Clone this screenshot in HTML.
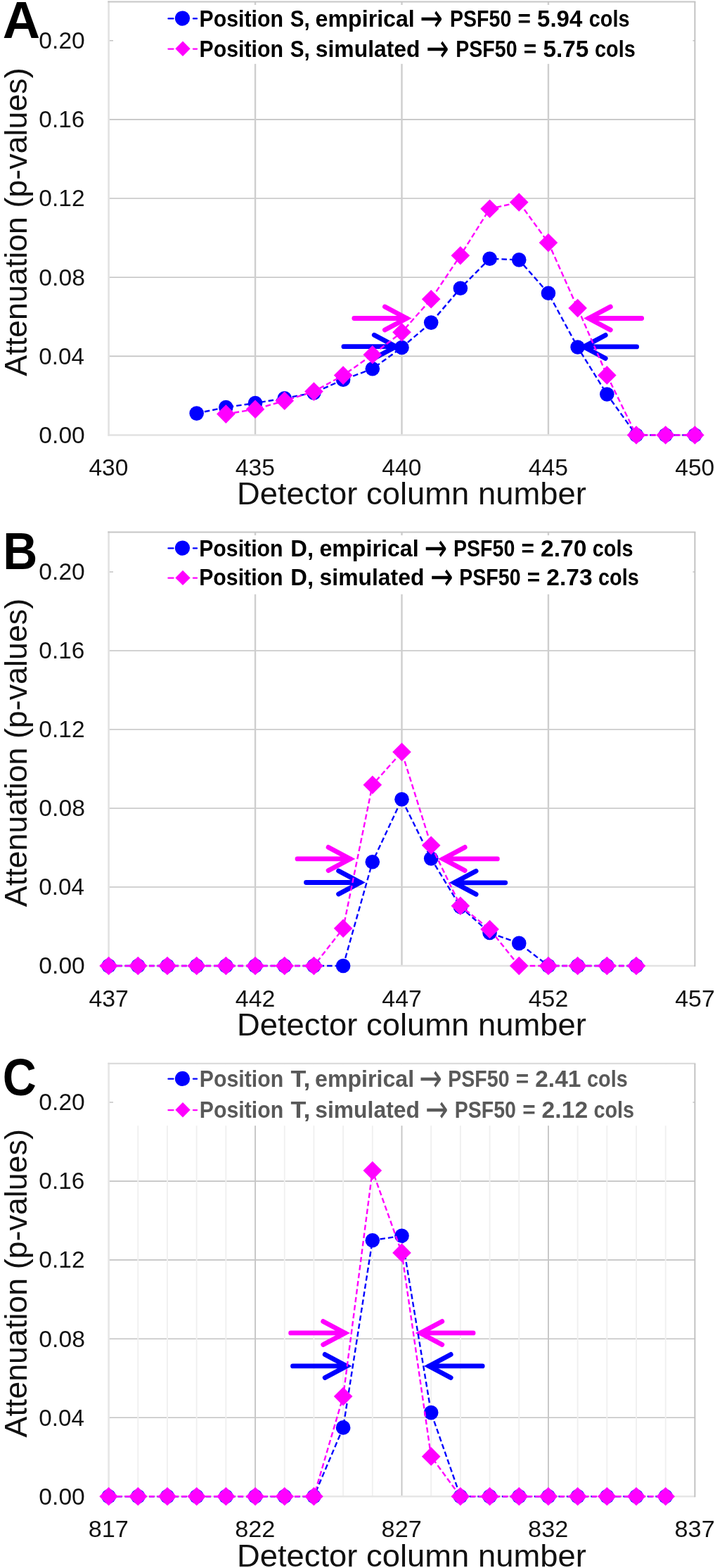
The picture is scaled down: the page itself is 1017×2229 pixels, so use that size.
<!DOCTYPE html>
<html lang="en"><head><meta charset="utf-8"><title>PSF50 profiles</title>
<style>html,body{margin:0;padding:0;background:#fff}svg{display:block}text{font-family:"Liberation Sans", "DejaVu Sans", sans-serif}.dj{font-family:"DejaVu Sans","Liberation Sans",sans-serif}</style>
</head><body>
<svg width="1017" height="2229" viewBox="0 0 1017 2229">
<rect width="1017" height="2229" fill="#fff"/>
<g>
<line x1="154.6" y1="506.35" x2="988.4" y2="506.35" stroke="#c3c3c3" stroke-width="1.6"/>
<line x1="154.6" y1="394.2" x2="988.4" y2="394.2" stroke="#c3c3c3" stroke-width="1.6"/>
<line x1="154.6" y1="282.05" x2="988.4" y2="282.05" stroke="#c3c3c3" stroke-width="1.6"/>
<line x1="154.6" y1="169.9" x2="988.4" y2="169.9" stroke="#c3c3c3" stroke-width="1.6"/>
<line x1="154.6" y1="57.75" x2="988.4" y2="57.75" stroke="#c3c3c3" stroke-width="1.6"/>
<line x1="363.05" y1="2.5" x2="363.05" y2="618.5" stroke="#cecece" stroke-width="2.4"/>
<line x1="571.5" y1="2.5" x2="571.5" y2="618.5" stroke="#cecece" stroke-width="2.4"/>
<line x1="779.95" y1="2.5" x2="779.95" y2="618.5" stroke="#cecece" stroke-width="2.4"/>
<rect x="161" y="7" width="824.5" height="83.8" fill="#fff"/>
<line x1="154.6" y1="1.3" x2="154.6" y2="619.8" stroke="#e2e2e2" stroke-width="2.6"/>
<line x1="153.3" y1="618.5" x2="988.4" y2="618.5" stroke="#e2e2e2" stroke-width="2.6"/>
<line x1="153.4" y1="2.5" x2="989.4" y2="2.5" stroke="#c6c6c6" stroke-width="2.2"/>
<line x1="988.4" y1="2.5" x2="988.4" y2="619.5" stroke="#c0c0c0" stroke-width="1.9"/>
<path d="M503.8 452.5H578.4M547.4 436L578.4 452.5L547.4 469" fill="none" stroke="#ff00ff" stroke-width="6.8" stroke-linecap="round" stroke-linejoin="miter"/>
<path d="M912.7 452.5H837.3M868.3 436L837.3 452.5L868.3 469" fill="none" stroke="#ff00ff" stroke-width="6.8" stroke-linecap="round" stroke-linejoin="miter"/>
<path d="M488.9 492.7H563.3M532.3 476.2L563.3 492.7L532.3 509.2" fill="none" stroke="#0000ff" stroke-width="6.8" stroke-linecap="round" stroke-linejoin="miter"/>
<path d="M905.6 492.9H830.2M861.2 476.4L830.2 492.9L861.2 509.4" fill="none" stroke="#0000ff" stroke-width="6.8" stroke-linecap="round" stroke-linejoin="miter"/>
<polyline points="279.67,587.6 321.36,579 363.05,573.1 404.74,566.2 446.43,558.4 488.12,539.8 529.81,524.3 571.5,494 613.19,458.6 654.88,409.7 696.57,367.7 738.26,369.4 779.95,416.8 821.64,493.5 863.33,560.5 905.02,618.5 946.71,618.5 988.4,618.5" fill="none" stroke="#0000ff" stroke-width="2.4" stroke-dasharray="7.5 4"/>
<circle cx="279.67" cy="587.6" r="10.3" fill="#0000ff"/>
<circle cx="321.36" cy="579" r="10.3" fill="#0000ff"/>
<circle cx="363.05" cy="573.1" r="10.3" fill="#0000ff"/>
<circle cx="404.74" cy="566.2" r="10.3" fill="#0000ff"/>
<circle cx="446.43" cy="558.4" r="10.3" fill="#0000ff"/>
<circle cx="488.12" cy="539.8" r="10.3" fill="#0000ff"/>
<circle cx="529.81" cy="524.3" r="10.3" fill="#0000ff"/>
<circle cx="571.5" cy="494" r="10.3" fill="#0000ff"/>
<circle cx="613.19" cy="458.6" r="10.3" fill="#0000ff"/>
<circle cx="654.88" cy="409.7" r="10.3" fill="#0000ff"/>
<circle cx="696.57" cy="367.7" r="10.3" fill="#0000ff"/>
<circle cx="738.26" cy="369.4" r="10.3" fill="#0000ff"/>
<circle cx="779.95" cy="416.8" r="10.3" fill="#0000ff"/>
<circle cx="821.64" cy="493.5" r="10.3" fill="#0000ff"/>
<circle cx="863.33" cy="560.5" r="10.3" fill="#0000ff"/>
<circle cx="905.02" cy="618.5" r="10.3" fill="#0000ff"/>
<circle cx="946.71" cy="618.5" r="10.3" fill="#0000ff"/>
<circle cx="988.4" cy="618.5" r="10.3" fill="#0000ff"/>
<polyline points="321.36,588.6 363.05,581.7 404.74,569.7 446.43,556.6 488.12,533.6 529.81,504.3 571.5,472.3 613.19,425.2 654.88,363.2 696.57,296.8 738.26,287.5 779.95,345 821.64,438 863.33,533.4 905.02,618.5 946.71,618.5 988.4,618.5" fill="none" stroke="#ff00ff" stroke-width="2.4" stroke-dasharray="7.5 4"/>
<path d="M308.06 588.6L321.36 575.3L334.66 588.6L321.36 601.9Z" fill="#ff00ff"/>
<path d="M349.75 581.7L363.05 568.4L376.35 581.7L363.05 595Z" fill="#ff00ff"/>
<path d="M391.44 569.7L404.74 556.4L418.04 569.7L404.74 583Z" fill="#ff00ff"/>
<path d="M433.13 556.6L446.43 543.3L459.73 556.6L446.43 569.9Z" fill="#ff00ff"/>
<path d="M474.82 533.6L488.12 520.3L501.42 533.6L488.12 546.9Z" fill="#ff00ff"/>
<path d="M516.51 504.3L529.81 491L543.11 504.3L529.81 517.6Z" fill="#ff00ff"/>
<path d="M558.2 472.3L571.5 459L584.8 472.3L571.5 485.6Z" fill="#ff00ff"/>
<path d="M599.89 425.2L613.19 411.9L626.49 425.2L613.19 438.5Z" fill="#ff00ff"/>
<path d="M641.58 363.2L654.88 349.9L668.18 363.2L654.88 376.5Z" fill="#ff00ff"/>
<path d="M683.27 296.8L696.57 283.5L709.87 296.8L696.57 310.1Z" fill="#ff00ff"/>
<path d="M724.96 287.5L738.26 274.2L751.56 287.5L738.26 300.8Z" fill="#ff00ff"/>
<path d="M766.65 345L779.95 331.7L793.25 345L779.95 358.3Z" fill="#ff00ff"/>
<path d="M808.34 438L821.64 424.7L834.94 438L821.64 451.3Z" fill="#ff00ff"/>
<path d="M850.03 533.4L863.33 520.1L876.63 533.4L863.33 546.7Z" fill="#ff00ff"/>
<path d="M891.72 618.5L905.02 605.2L918.32 618.5L905.02 631.8Z" fill="#ff00ff"/>
<path d="M933.41 618.5L946.71 605.2L960.01 618.5L946.71 631.8Z" fill="#ff00ff"/>
<path d="M975.1 618.5L988.4 605.2L1001.7 618.5L988.4 631.8Z" fill="#ff00ff"/>
<path d="M239.4 26.4H246.6M274.9 26.4H280.1" stroke="#0000ff" stroke-width="2.2" stroke-linecap="round"/>
<circle cx="259.5" cy="26.1" r="10.6" fill="#0000ff"/>
<path d="M239.4 69.6H246.6M274.9 69.6H280.1" stroke="#ff00ff" stroke-width="2.2" stroke-linecap="round"/>
<path d="M249.3 69.3L260 58.6L270.7 69.3L260 80Z" fill="#ff00ff"/>
<text y="37.7" font-size="32.5" font-weight="bold" fill="#000000"><tspan x="283.56" textLength="119.42" lengthAdjust="spacingAndGlyphs">Position</tspan> <tspan x="412.81" textLength="28.09" lengthAdjust="spacingAndGlyphs">S,</tspan> <tspan x="448.61" textLength="141.18" lengthAdjust="spacingAndGlyphs">empirical</tspan> <tspan x="597.25" dy="5.9" class="dj" font-size="54" font-weight="normal" textLength="32.71" lengthAdjust="spacingAndGlyphs">→</tspan> <tspan x="639.97" dy="-5.9" textLength="87.33" lengthAdjust="spacingAndGlyphs">PSF50</tspan> <tspan x="736.56" textLength="18.45" lengthAdjust="spacingAndGlyphs">=</tspan> <tspan x="764.11" textLength="64.2" lengthAdjust="spacingAndGlyphs">5.94</tspan> <tspan x="837.75" textLength="57.74" lengthAdjust="spacingAndGlyphs">cols</tspan></text>
<text y="80.7" font-size="32.5" font-weight="bold" fill="#000000"><tspan x="283.56" textLength="119.42" lengthAdjust="spacingAndGlyphs">Position</tspan> <tspan x="412.81" textLength="28.09" lengthAdjust="spacingAndGlyphs">S,</tspan> <tspan x="448.78" textLength="148.81" lengthAdjust="spacingAndGlyphs">simulated</tspan> <tspan x="606.05" dy="5.9" class="dj" font-size="54" font-weight="normal" textLength="32.71" lengthAdjust="spacingAndGlyphs">→</tspan> <tspan x="648.27" dy="-5.9" textLength="87.33" lengthAdjust="spacingAndGlyphs">PSF50</tspan> <tspan x="744.86" textLength="18.45" lengthAdjust="spacingAndGlyphs">=</tspan> <tspan x="772.4" textLength="64.96" lengthAdjust="spacingAndGlyphs">5.75</tspan> <tspan x="846.05" textLength="57.74" lengthAdjust="spacingAndGlyphs">cols</tspan></text>
<text x="55.35" y="629.8" font-size="33" fill="#111" textLength="65.45" lengthAdjust="spacingAndGlyphs">0.00</text>
<text x="55.37" y="517.65" font-size="33" fill="#111" textLength="64.48" lengthAdjust="spacingAndGlyphs">0.04</text>
<text x="55.35" y="405.5" font-size="33" fill="#111" textLength="65.63" lengthAdjust="spacingAndGlyphs">0.08</text>
<text x="55.36" y="293.35" font-size="33" fill="#111" textLength="65.26" lengthAdjust="spacingAndGlyphs">0.12</text>
<text x="55.36" y="181.2" font-size="33" fill="#111" textLength="65" lengthAdjust="spacingAndGlyphs">0.16</text>
<text x="55.35" y="69.05" font-size="33" fill="#111" textLength="65.45" lengthAdjust="spacingAndGlyphs">0.20</text>
<text x="126.44" y="676.1" font-size="33" fill="#111" textLength="56.05" lengthAdjust="spacingAndGlyphs">430</text>
<text x="334.89" y="676.1" font-size="33" fill="#111" textLength="56.14" lengthAdjust="spacingAndGlyphs">435</text>
<text x="543.34" y="676.1" font-size="33" fill="#111" textLength="56.05" lengthAdjust="spacingAndGlyphs">440</text>
<text x="751.79" y="676.1" font-size="33" fill="#111" textLength="56.14" lengthAdjust="spacingAndGlyphs">445</text>
<text x="960.24" y="676.1" font-size="33" fill="#111" textLength="56.05" lengthAdjust="spacingAndGlyphs">450</text>
<text x="336.96" y="716.6" font-size="44.5" fill="#111" textLength="496.9" lengthAdjust="spacingAndGlyphs">Detector column number</text>
<text x="-0.11" y="0" font-size="44.5" fill="#111" textLength="438.36" lengthAdjust="spacingAndGlyphs" transform="translate(38.1 534.6) rotate(-90)">Attenuation (p-values)</text>
<text x="3.65" y="54.3" font-size="74.5" font-weight="bold" fill="#000" textLength="53.36" lengthAdjust="spacingAndGlyphs">A</text>
</g>
<g>
<line x1="154.6" y1="1261" x2="988.4" y2="1261" stroke="#c3c3c3" stroke-width="1.6"/>
<line x1="154.6" y1="1149" x2="988.4" y2="1149" stroke="#c3c3c3" stroke-width="1.6"/>
<line x1="154.6" y1="1037" x2="988.4" y2="1037" stroke="#c3c3c3" stroke-width="1.6"/>
<line x1="154.6" y1="925" x2="988.4" y2="925" stroke="#c3c3c3" stroke-width="1.6"/>
<line x1="154.6" y1="813" x2="988.4" y2="813" stroke="#c3c3c3" stroke-width="1.6"/>
<line x1="363.05" y1="756.5" x2="363.05" y2="1373" stroke="#cecece" stroke-width="2.4"/>
<line x1="571.5" y1="756.5" x2="571.5" y2="1373" stroke="#cecece" stroke-width="2.4"/>
<line x1="779.95" y1="756.5" x2="779.95" y2="1373" stroke="#cecece" stroke-width="2.4"/>
<rect x="161" y="761" width="824.5" height="83.8" fill="#fff"/>
<line x1="154.6" y1="755.3" x2="154.6" y2="1374.3" stroke="#e2e2e2" stroke-width="2.6"/>
<line x1="153.3" y1="1373" x2="988.4" y2="1373" stroke="#e2e2e2" stroke-width="2.6"/>
<line x1="153.4" y1="756.5" x2="989.4" y2="756.5" stroke="#c6c6c6" stroke-width="2.2"/>
<line x1="988.4" y1="756.5" x2="988.4" y2="1374" stroke="#c0c0c0" stroke-width="1.9"/>
<path d="M423 1220.9H498.1M467.1 1204.4L498.1 1220.9L467.1 1237.4" fill="none" stroke="#ff00ff" stroke-width="6.8" stroke-linecap="round" stroke-linejoin="miter"/>
<path d="M707.4 1220.9H630.2M661.2 1204.4L630.2 1220.9L661.2 1237.4" fill="none" stroke="#ff00ff" stroke-width="6.8" stroke-linecap="round" stroke-linejoin="miter"/>
<path d="M435.5 1254.5H512.6M481.6 1238L512.6 1254.5L481.6 1271" fill="none" stroke="#0000ff" stroke-width="6.8" stroke-linecap="round" stroke-linejoin="miter"/>
<path d="M718.8 1254.8H646.1M677.1 1238.3L646.1 1254.8L677.1 1271.3" fill="none" stroke="#0000ff" stroke-width="6.8" stroke-linecap="round" stroke-linejoin="miter"/>
<polyline points="154.6,1373 196.29,1373 237.98,1373 279.67,1373 321.36,1373 363.05,1373 404.74,1373 446.43,1373 488.12,1373 529.81,1225.3 571.5,1136.3 613.19,1220.5 654.88,1289 696.57,1326 738.26,1340.9 779.95,1373 821.64,1373 863.33,1373 905.02,1373" fill="none" stroke="#0000ff" stroke-width="2.4" stroke-dasharray="7.5 4"/>
<circle cx="154.6" cy="1373" r="10.3" fill="#0000ff"/>
<circle cx="196.29" cy="1373" r="10.3" fill="#0000ff"/>
<circle cx="237.98" cy="1373" r="10.3" fill="#0000ff"/>
<circle cx="279.67" cy="1373" r="10.3" fill="#0000ff"/>
<circle cx="321.36" cy="1373" r="10.3" fill="#0000ff"/>
<circle cx="363.05" cy="1373" r="10.3" fill="#0000ff"/>
<circle cx="404.74" cy="1373" r="10.3" fill="#0000ff"/>
<circle cx="446.43" cy="1373" r="10.3" fill="#0000ff"/>
<circle cx="488.12" cy="1373" r="10.3" fill="#0000ff"/>
<circle cx="529.81" cy="1225.3" r="10.3" fill="#0000ff"/>
<circle cx="571.5" cy="1136.3" r="10.3" fill="#0000ff"/>
<circle cx="613.19" cy="1220.5" r="10.3" fill="#0000ff"/>
<circle cx="654.88" cy="1289" r="10.3" fill="#0000ff"/>
<circle cx="696.57" cy="1326" r="10.3" fill="#0000ff"/>
<circle cx="738.26" cy="1340.9" r="10.3" fill="#0000ff"/>
<circle cx="779.95" cy="1373" r="10.3" fill="#0000ff"/>
<circle cx="821.64" cy="1373" r="10.3" fill="#0000ff"/>
<circle cx="863.33" cy="1373" r="10.3" fill="#0000ff"/>
<circle cx="905.02" cy="1373" r="10.3" fill="#0000ff"/>
<polyline points="154.6,1373 196.29,1373 237.98,1373 279.67,1373 321.36,1373 363.05,1373 404.74,1373 446.43,1373 488.12,1319.7 529.81,1115.7 571.5,1069 613.19,1201.8 654.88,1287.8 696.57,1321 738.26,1373 779.95,1373 821.64,1373 863.33,1373 905.02,1373" fill="none" stroke="#ff00ff" stroke-width="2.4" stroke-dasharray="7.5 4"/>
<path d="M141.3 1373L154.6 1359.7L167.9 1373L154.6 1386.3Z" fill="#ff00ff"/>
<path d="M182.99 1373L196.29 1359.7L209.59 1373L196.29 1386.3Z" fill="#ff00ff"/>
<path d="M224.68 1373L237.98 1359.7L251.28 1373L237.98 1386.3Z" fill="#ff00ff"/>
<path d="M266.37 1373L279.67 1359.7L292.97 1373L279.67 1386.3Z" fill="#ff00ff"/>
<path d="M308.06 1373L321.36 1359.7L334.66 1373L321.36 1386.3Z" fill="#ff00ff"/>
<path d="M349.75 1373L363.05 1359.7L376.35 1373L363.05 1386.3Z" fill="#ff00ff"/>
<path d="M391.44 1373L404.74 1359.7L418.04 1373L404.74 1386.3Z" fill="#ff00ff"/>
<path d="M433.13 1373L446.43 1359.7L459.73 1373L446.43 1386.3Z" fill="#ff00ff"/>
<path d="M474.82 1319.7L488.12 1306.4L501.42 1319.7L488.12 1333Z" fill="#ff00ff"/>
<path d="M516.51 1115.7L529.81 1102.4L543.11 1115.7L529.81 1129Z" fill="#ff00ff"/>
<path d="M558.2 1069L571.5 1055.7L584.8 1069L571.5 1082.3Z" fill="#ff00ff"/>
<path d="M599.89 1201.8L613.19 1188.5L626.49 1201.8L613.19 1215.1Z" fill="#ff00ff"/>
<path d="M641.58 1287.8L654.88 1274.5L668.18 1287.8L654.88 1301.1Z" fill="#ff00ff"/>
<path d="M683.27 1321L696.57 1307.7L709.87 1321L696.57 1334.3Z" fill="#ff00ff"/>
<path d="M724.96 1373L738.26 1359.7L751.56 1373L738.26 1386.3Z" fill="#ff00ff"/>
<path d="M766.65 1373L779.95 1359.7L793.25 1373L779.95 1386.3Z" fill="#ff00ff"/>
<path d="M808.34 1373L821.64 1359.7L834.94 1373L821.64 1386.3Z" fill="#ff00ff"/>
<path d="M850.03 1373L863.33 1359.7L876.63 1373L863.33 1386.3Z" fill="#ff00ff"/>
<path d="M891.72 1373L905.02 1359.7L918.32 1373L905.02 1386.3Z" fill="#ff00ff"/>
<path d="M239.4 779.4H246.6M274.9 779.4H280.1" stroke="#0000ff" stroke-width="2.2" stroke-linecap="round"/>
<circle cx="259.5" cy="779.1" r="10.6" fill="#0000ff"/>
<path d="M239.4 821.7H246.6M274.9 821.7H280.1" stroke="#ff00ff" stroke-width="2.2" stroke-linecap="round"/>
<path d="M249.3 821.4L260 810.7L270.7 821.4L260 832.1Z" fill="#ff00ff"/>
<text y="790.8" font-size="32.5" font-weight="bold" fill="#000000"><tspan x="283.16" textLength="119.42" lengthAdjust="spacingAndGlyphs">Position</tspan> <tspan x="413.38" textLength="32.83" lengthAdjust="spacingAndGlyphs">D,</tspan> <tspan x="454.41" textLength="141.18" lengthAdjust="spacingAndGlyphs">empirical</tspan> <tspan x="603.55" dy="5.9" class="dj" font-size="54" font-weight="normal" textLength="32.71" lengthAdjust="spacingAndGlyphs">→</tspan> <tspan x="644.97" dy="-5.9" textLength="87.33" lengthAdjust="spacingAndGlyphs">PSF50</tspan> <tspan x="741.56" textLength="18.45" lengthAdjust="spacingAndGlyphs">=</tspan> <tspan x="768.92" textLength="65.57" lengthAdjust="spacingAndGlyphs">2.70</tspan> <tspan x="842.75" textLength="57.74" lengthAdjust="spacingAndGlyphs">cols</tspan></text>
<text y="832.4" font-size="32.5" font-weight="bold" fill="#000000"><tspan x="283.16" textLength="119.42" lengthAdjust="spacingAndGlyphs">Position</tspan> <tspan x="413.38" textLength="32.83" lengthAdjust="spacingAndGlyphs">D,</tspan> <tspan x="454.58" textLength="148.81" lengthAdjust="spacingAndGlyphs">simulated</tspan> <tspan x="611.95" dy="5.9" class="dj" font-size="54" font-weight="normal" textLength="32.71" lengthAdjust="spacingAndGlyphs">→</tspan> <tspan x="653.27" dy="-5.9" textLength="87.33" lengthAdjust="spacingAndGlyphs">PSF50</tspan> <tspan x="749.86" textLength="18.45" lengthAdjust="spacingAndGlyphs">=</tspan> <tspan x="777.22" textLength="65.4" lengthAdjust="spacingAndGlyphs">2.73</tspan> <tspan x="851.05" textLength="57.74" lengthAdjust="spacingAndGlyphs">cols</tspan></text>
<text x="55.35" y="1383.8" font-size="33" fill="#111" textLength="65.45" lengthAdjust="spacingAndGlyphs">0.00</text>
<text x="55.37" y="1271.8" font-size="33" fill="#111" textLength="64.48" lengthAdjust="spacingAndGlyphs">0.04</text>
<text x="55.35" y="1159.8" font-size="33" fill="#111" textLength="65.63" lengthAdjust="spacingAndGlyphs">0.08</text>
<text x="55.36" y="1047.8" font-size="33" fill="#111" textLength="65.26" lengthAdjust="spacingAndGlyphs">0.12</text>
<text x="55.36" y="935.8" font-size="33" fill="#111" textLength="65" lengthAdjust="spacingAndGlyphs">0.16</text>
<text x="55.35" y="823.8" font-size="33" fill="#111" textLength="65.45" lengthAdjust="spacingAndGlyphs">0.20</text>
<text x="126.44" y="1431.3" font-size="33" fill="#111" textLength="56.49" lengthAdjust="spacingAndGlyphs">437</text>
<text x="334.89" y="1431.3" font-size="33" fill="#111" textLength="56.49" lengthAdjust="spacingAndGlyphs">442</text>
<text x="543.34" y="1431.3" font-size="33" fill="#111" textLength="56.49" lengthAdjust="spacingAndGlyphs">447</text>
<text x="751.79" y="1431.3" font-size="33" fill="#111" textLength="56.49" lengthAdjust="spacingAndGlyphs">452</text>
<text x="960.24" y="1431.3" font-size="33" fill="#111" textLength="56.49" lengthAdjust="spacingAndGlyphs">457</text>
<text x="336.96" y="1472.4" font-size="44.5" fill="#111" textLength="496.9" lengthAdjust="spacingAndGlyphs">Detector column number</text>
<text x="-0.11" y="0" font-size="44.5" fill="#111" textLength="438.36" lengthAdjust="spacingAndGlyphs" transform="translate(38.1 1289.1) rotate(-90)">Attenuation (p-values)</text>
<text x="4.22" y="809" font-size="74.5" font-weight="bold" fill="#000" textLength="49.01" lengthAdjust="spacingAndGlyphs">B</text>
</g>
<g>
<line x1="154.6" y1="2015.25" x2="988.4" y2="2015.25" stroke="#c3c3c3" stroke-width="1.6"/>
<line x1="154.6" y1="1903.2" x2="988.4" y2="1903.2" stroke="#c3c3c3" stroke-width="1.6"/>
<line x1="154.6" y1="1791.15" x2="988.4" y2="1791.15" stroke="#c3c3c3" stroke-width="1.6"/>
<line x1="154.6" y1="1679.1" x2="988.4" y2="1679.1" stroke="#c3c3c3" stroke-width="1.6"/>
<line x1="154.6" y1="1567.05" x2="988.4" y2="1567.05" stroke="#c3c3c3" stroke-width="1.6"/>
<line x1="196.29" y1="1511.9" x2="196.29" y2="2127.3" stroke="#f0f0f0" stroke-width="1.9"/>
<line x1="237.98" y1="1511.9" x2="237.98" y2="2127.3" stroke="#f0f0f0" stroke-width="1.9"/>
<line x1="279.67" y1="1511.9" x2="279.67" y2="2127.3" stroke="#f0f0f0" stroke-width="1.9"/>
<line x1="321.36" y1="1511.9" x2="321.36" y2="2127.3" stroke="#f0f0f0" stroke-width="1.9"/>
<line x1="404.74" y1="1511.9" x2="404.74" y2="2127.3" stroke="#f0f0f0" stroke-width="1.9"/>
<line x1="446.43" y1="1511.9" x2="446.43" y2="2127.3" stroke="#f0f0f0" stroke-width="1.9"/>
<line x1="488.12" y1="1511.9" x2="488.12" y2="2127.3" stroke="#f0f0f0" stroke-width="1.9"/>
<line x1="529.81" y1="1511.9" x2="529.81" y2="2127.3" stroke="#f0f0f0" stroke-width="1.9"/>
<line x1="613.19" y1="1511.9" x2="613.19" y2="2127.3" stroke="#f0f0f0" stroke-width="1.9"/>
<line x1="654.88" y1="1511.9" x2="654.88" y2="2127.3" stroke="#f0f0f0" stroke-width="1.9"/>
<line x1="696.57" y1="1511.9" x2="696.57" y2="2127.3" stroke="#f0f0f0" stroke-width="1.9"/>
<line x1="738.26" y1="1511.9" x2="738.26" y2="2127.3" stroke="#f0f0f0" stroke-width="1.9"/>
<line x1="821.64" y1="1511.9" x2="821.64" y2="2127.3" stroke="#f0f0f0" stroke-width="1.9"/>
<line x1="863.33" y1="1511.9" x2="863.33" y2="2127.3" stroke="#f0f0f0" stroke-width="1.9"/>
<line x1="905.02" y1="1511.9" x2="905.02" y2="2127.3" stroke="#f0f0f0" stroke-width="1.9"/>
<line x1="946.71" y1="1511.9" x2="946.71" y2="2127.3" stroke="#f0f0f0" stroke-width="1.9"/>
<line x1="363.05" y1="1511.9" x2="363.05" y2="2127.3" stroke="#c6c6c6" stroke-width="1.9"/>
<line x1="571.5" y1="1511.9" x2="571.5" y2="2127.3" stroke="#c6c6c6" stroke-width="1.9"/>
<line x1="779.95" y1="1511.9" x2="779.95" y2="2127.3" stroke="#c6c6c6" stroke-width="1.9"/>
<rect x="161" y="1513.1" width="824.5" height="87.1" fill="#fff"/>
<line x1="154.6" y1="1510.7" x2="154.6" y2="2128.6" stroke="#e6e6e6" stroke-width="2.6"/>
<line x1="153.3" y1="2127.3" x2="988.4" y2="2127.3" stroke="#e6e6e6" stroke-width="2.6"/>
<line x1="153.4" y1="1511.9" x2="989.4" y2="1511.9" stroke="#dcdcdc" stroke-width="2.2"/>
<line x1="988.4" y1="1511.9" x2="988.4" y2="2128.3" stroke="#c0c0c0" stroke-width="1.9"/>
<path d="M413.6 1894.9H490.7M459.7 1878.4L490.7 1894.9L459.7 1911.4" fill="none" stroke="#ff00ff" stroke-width="6.8" stroke-linecap="round" stroke-linejoin="miter"/>
<path d="M673.1 1894.9H597.8M628.8 1878.4L597.8 1894.9L628.8 1911.4" fill="none" stroke="#ff00ff" stroke-width="6.8" stroke-linecap="round" stroke-linejoin="miter"/>
<path d="M416.5 1941.9H493.2M462.2 1925.4L493.2 1941.9L462.2 1958.4" fill="none" stroke="#0000ff" stroke-width="6.8" stroke-linecap="round" stroke-linejoin="miter"/>
<path d="M686.2 1941.9H610.2M641.2 1925.4L610.2 1941.9L641.2 1958.4" fill="none" stroke="#0000ff" stroke-width="6.8" stroke-linecap="round" stroke-linejoin="miter"/>
<polyline points="154.6,2127.3 196.29,2127.3 237.98,2127.3 279.67,2127.3 321.36,2127.3 363.05,2127.3 404.74,2127.3 446.43,2127.3 488.12,2029.4 529.81,1763.2 571.5,1756.8 613.19,2008.1 654.88,2127.3 696.57,2127.3 738.26,2127.3 779.95,2127.3 821.64,2127.3 863.33,2127.3 905.02,2127.3 946.71,2127.3" fill="none" stroke="#0000ff" stroke-width="2.4" stroke-dasharray="7.5 4"/>
<circle cx="154.6" cy="2127.3" r="10.3" fill="#0000ff"/>
<circle cx="196.29" cy="2127.3" r="10.3" fill="#0000ff"/>
<circle cx="237.98" cy="2127.3" r="10.3" fill="#0000ff"/>
<circle cx="279.67" cy="2127.3" r="10.3" fill="#0000ff"/>
<circle cx="321.36" cy="2127.3" r="10.3" fill="#0000ff"/>
<circle cx="363.05" cy="2127.3" r="10.3" fill="#0000ff"/>
<circle cx="404.74" cy="2127.3" r="10.3" fill="#0000ff"/>
<circle cx="446.43" cy="2127.3" r="10.3" fill="#0000ff"/>
<circle cx="488.12" cy="2029.4" r="10.3" fill="#0000ff"/>
<circle cx="529.81" cy="1763.2" r="10.3" fill="#0000ff"/>
<circle cx="571.5" cy="1756.8" r="10.3" fill="#0000ff"/>
<circle cx="613.19" cy="2008.1" r="10.3" fill="#0000ff"/>
<circle cx="654.88" cy="2127.3" r="10.3" fill="#0000ff"/>
<circle cx="696.57" cy="2127.3" r="10.3" fill="#0000ff"/>
<circle cx="738.26" cy="2127.3" r="10.3" fill="#0000ff"/>
<circle cx="779.95" cy="2127.3" r="10.3" fill="#0000ff"/>
<circle cx="821.64" cy="2127.3" r="10.3" fill="#0000ff"/>
<circle cx="863.33" cy="2127.3" r="10.3" fill="#0000ff"/>
<circle cx="905.02" cy="2127.3" r="10.3" fill="#0000ff"/>
<circle cx="946.71" cy="2127.3" r="10.3" fill="#0000ff"/>
<polyline points="154.6,2127.3 196.29,2127.3 237.98,2127.3 279.67,2127.3 321.36,2127.3 363.05,2127.3 404.74,2127.3 446.43,2127.3 488.12,1985.1 529.81,1664.1 571.5,1780.9 613.19,2070.4 654.88,2127.3 696.57,2127.3 738.26,2127.3 779.95,2127.3 821.64,2127.3 863.33,2127.3 905.02,2127.3 946.71,2127.3" fill="none" stroke="#ff00ff" stroke-width="2.4" stroke-dasharray="7.5 4"/>
<path d="M141.3 2127.3L154.6 2114L167.9 2127.3L154.6 2140.6Z" fill="#ff00ff"/>
<path d="M182.99 2127.3L196.29 2114L209.59 2127.3L196.29 2140.6Z" fill="#ff00ff"/>
<path d="M224.68 2127.3L237.98 2114L251.28 2127.3L237.98 2140.6Z" fill="#ff00ff"/>
<path d="M266.37 2127.3L279.67 2114L292.97 2127.3L279.67 2140.6Z" fill="#ff00ff"/>
<path d="M308.06 2127.3L321.36 2114L334.66 2127.3L321.36 2140.6Z" fill="#ff00ff"/>
<path d="M349.75 2127.3L363.05 2114L376.35 2127.3L363.05 2140.6Z" fill="#ff00ff"/>
<path d="M391.44 2127.3L404.74 2114L418.04 2127.3L404.74 2140.6Z" fill="#ff00ff"/>
<path d="M433.13 2127.3L446.43 2114L459.73 2127.3L446.43 2140.6Z" fill="#ff00ff"/>
<path d="M474.82 1985.1L488.12 1971.8L501.42 1985.1L488.12 1998.4Z" fill="#ff00ff"/>
<path d="M516.51 1664.1L529.81 1650.8L543.11 1664.1L529.81 1677.4Z" fill="#ff00ff"/>
<path d="M558.2 1780.9L571.5 1767.6L584.8 1780.9L571.5 1794.2Z" fill="#ff00ff"/>
<path d="M599.89 2070.4L613.19 2057.1L626.49 2070.4L613.19 2083.7Z" fill="#ff00ff"/>
<path d="M641.58 2127.3L654.88 2114L668.18 2127.3L654.88 2140.6Z" fill="#ff00ff"/>
<path d="M683.27 2127.3L696.57 2114L709.87 2127.3L696.57 2140.6Z" fill="#ff00ff"/>
<path d="M724.96 2127.3L738.26 2114L751.56 2127.3L738.26 2140.6Z" fill="#ff00ff"/>
<path d="M766.65 2127.3L779.95 2114L793.25 2127.3L779.95 2140.6Z" fill="#ff00ff"/>
<path d="M808.34 2127.3L821.64 2114L834.94 2127.3L821.64 2140.6Z" fill="#ff00ff"/>
<path d="M850.03 2127.3L863.33 2114L876.63 2127.3L863.33 2140.6Z" fill="#ff00ff"/>
<path d="M891.72 2127.3L905.02 2114L918.32 2127.3L905.02 2140.6Z" fill="#ff00ff"/>
<path d="M933.41 2127.3L946.71 2114L960.01 2127.3L946.71 2140.6Z" fill="#ff00ff"/>
<path d="M239.4 1533.7H246.6M274.9 1533.7H280.1" stroke="#0000ff" stroke-width="2.2" stroke-linecap="round"/>
<circle cx="259.5" cy="1533.4" r="10.6" fill="#0000ff"/>
<path d="M239.4 1578.1H246.6M274.9 1578.1H280.1" stroke="#ff00ff" stroke-width="2.2" stroke-linecap="round"/>
<path d="M249.3 1577.8L260 1567.1L270.7 1577.8L260 1588.5Z" fill="#ff00ff"/>
<text y="1545" font-size="32.5" font-weight="bold" fill="#595959"><tspan x="283.76" textLength="119.42" lengthAdjust="spacingAndGlyphs">Position</tspan> <tspan x="413.54" textLength="27.89" lengthAdjust="spacingAndGlyphs">T,</tspan> <tspan x="448.01" textLength="141.18" lengthAdjust="spacingAndGlyphs">empirical</tspan> <tspan x="596.15" dy="5.9" class="dj" font-size="54" font-weight="normal" textLength="32.71" lengthAdjust="spacingAndGlyphs">→</tspan> <tspan x="637.27" dy="-5.9" textLength="87.33" lengthAdjust="spacingAndGlyphs">PSF50</tspan> <tspan x="733.86" textLength="18.45" lengthAdjust="spacingAndGlyphs">=</tspan> <tspan x="761.23" textLength="65.14" lengthAdjust="spacingAndGlyphs">2.41</tspan> <tspan x="835.05" textLength="57.74" lengthAdjust="spacingAndGlyphs">cols</tspan></text>
<text y="1588.7" font-size="32.5" font-weight="bold" fill="#595959"><tspan x="283.76" textLength="119.42" lengthAdjust="spacingAndGlyphs">Position</tspan> <tspan x="413.54" textLength="27.89" lengthAdjust="spacingAndGlyphs">T,</tspan> <tspan x="448.18" textLength="148.81" lengthAdjust="spacingAndGlyphs">simulated</tspan> <tspan x="604.95" dy="5.9" class="dj" font-size="54" font-weight="normal" textLength="32.71" lengthAdjust="spacingAndGlyphs">→</tspan> <tspan x="646.67" dy="-5.9" textLength="87.33" lengthAdjust="spacingAndGlyphs">PSF50</tspan> <tspan x="743.26" textLength="18.45" lengthAdjust="spacingAndGlyphs">=</tspan> <tspan x="770.62" textLength="65.57" lengthAdjust="spacingAndGlyphs">2.12</tspan> <tspan x="844.45" textLength="57.74" lengthAdjust="spacingAndGlyphs">cols</tspan></text>
<text x="55.35" y="2138.6" font-size="33" fill="#111" textLength="65.45" lengthAdjust="spacingAndGlyphs">0.00</text>
<text x="55.37" y="2026.55" font-size="33" fill="#111" textLength="64.48" lengthAdjust="spacingAndGlyphs">0.04</text>
<text x="55.35" y="1914.5" font-size="33" fill="#111" textLength="65.63" lengthAdjust="spacingAndGlyphs">0.08</text>
<text x="55.36" y="1802.45" font-size="33" fill="#111" textLength="65.26" lengthAdjust="spacingAndGlyphs">0.12</text>
<text x="55.36" y="1690.4" font-size="33" fill="#111" textLength="65" lengthAdjust="spacingAndGlyphs">0.16</text>
<text x="55.35" y="1578.35" font-size="33" fill="#111" textLength="65.45" lengthAdjust="spacingAndGlyphs">0.20</text>
<text x="125.74" y="2185.3" font-size="33" fill="#111" textLength="57.21" lengthAdjust="spacingAndGlyphs">817</text>
<text x="334.19" y="2185.3" font-size="33" fill="#111" textLength="57.21" lengthAdjust="spacingAndGlyphs">822</text>
<text x="542.64" y="2185.3" font-size="33" fill="#111" textLength="57.21" lengthAdjust="spacingAndGlyphs">827</text>
<text x="751.09" y="2185.3" font-size="33" fill="#111" textLength="57.21" lengthAdjust="spacingAndGlyphs">832</text>
<text x="959.54" y="2185.3" font-size="33" fill="#111" textLength="57.21" lengthAdjust="spacingAndGlyphs">837</text>
<text x="336.96" y="2226.9" font-size="44.5" fill="#111" textLength="496.9" lengthAdjust="spacingAndGlyphs">Detector column number</text>
<text x="-0.11" y="0" font-size="44.5" fill="#111" textLength="438.36" lengthAdjust="spacingAndGlyphs" transform="translate(38.1 2043.4) rotate(-90)">Attenuation (p-values)</text>
<text x="3.74" y="1556.9" font-size="74.5" font-weight="bold" fill="#000" textLength="47.96" lengthAdjust="spacingAndGlyphs">C</text>
</g>
</svg>
</body></html>
